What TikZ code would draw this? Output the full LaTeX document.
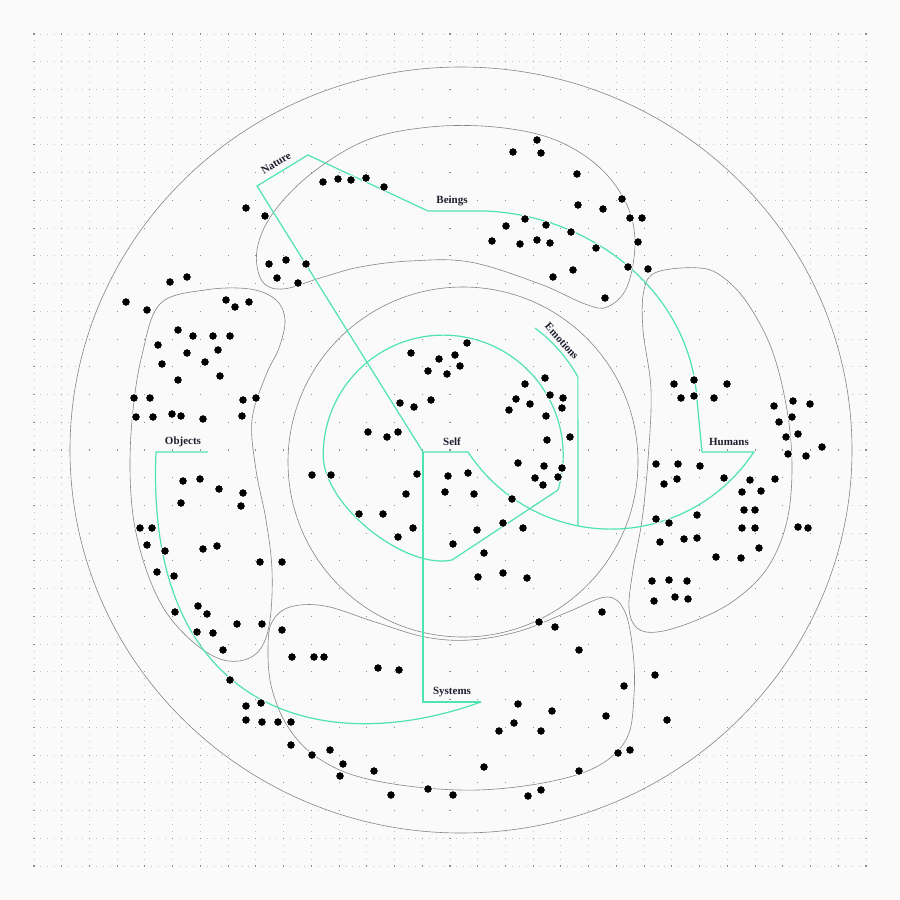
\documentclass[tikz,border=0pt]{standalone}
\usepackage{fontspec}
\setmainfont{Liberation Serif}
\definecolor{bgc}{HTML}{FAFAFA}
\definecolor{minorc}{HTML}{C4C4C4}
\definecolor{majorc}{HTML}{8C8C8C}
\definecolor{linec}{HTML}{858585}
\definecolor{mint}{HTML}{4FE3B0}
\definecolor{inkc}{HTML}{1E1E2E}
\tikzset{
  gridline/.style={minorc, line width=0.9pt, dash pattern=on 0.9pt off 6.0333pt},
  blob/.style={linec, line width=0.6pt},
  route/.style={mint, line width=1.2pt, line join=miter},
  spot/.style={fill=black},
  ring/.style={draw=bgc, line width=0.8pt},
  lbl/.style={text=inkc, font=\bfseries\fontsize{11}{13}\selectfont, inner sep=1pt}
}
\begin{document}
\begin{tikzpicture}[x=1pt,y=-1pt]
\useasboundingbox (0,0) rectangle (900,900);
\fill[bgc] (0,0) rectangle (900,900);
% dotted grid
\foreach \i in {0,...,30}{
  \pgfmathsetmacro\g{34+\i*27.7333}
  \draw[gridline] (33.55,\g) -- (866.5,\g);
  \draw[gridline] (\g,33.55) -- (\g,866.5);
}
% outer region
\fill[bgc] (461,450) ellipse[x radius=391, y radius=383];
\foreach \i in {0,...,30}{
  \foreach \j in {0,...,30}{
    \fill[majorc] ({34+\i*27.7333-0.55},{34+\j*27.7333-0.55}) rectangle ++(1.1,1.1);
  }
}
\draw[blob] (461,450) ellipse[x radius=391, y radius=383];
% inner circle
\draw[blob] (463,462) circle[radius=175];
% Beings blob
\draw[blob] plot[smooth cycle, tension=0.6] coordinates {
 (257,250) (273,213) (312,173) (367,140) (430,127) (495,127) (553,139) (598,166) (626,203) (635,242)
 (627,287) (607,307) (585,304) (540,284) (470,262) (410,261) (360,267) (320,278) (283,289) (262,281)};
% Objects blob
\draw[blob] plot[smooth cycle, tension=0.6] coordinates {
 (160,304) (205,290) (250,289) (276,300) (285,320) (279,348) (266,375) (252,420) (256,470) (266,520)
 (272,570) (270,620) (261,648) (244,660) (220,659) (193,642) (166,612) (147,572) (134,522) (130,468)
 (133,410) (142,355)};
% Humans blob
\draw[blob] plot[smooth cycle, tension=0.6] coordinates {
 (700,268) (657,272) (644,290) (643,330) (651,390) (648,460) (642,520) (633,570) (629,608) (637,628)
 (657,632) (692,622) (732,602) (766,570) (786,525) (792,470) (787,410) (772,350) (748,304) (724,278)};
% Systems blob
\draw[blob] plot[smooth cycle, tension=0.6] coordinates {
 (272,622) (290,607) (325,606) (375,622) (425,637) (470,640) (520,631) (568,612) (607,597) (625,612)
 (633,652) (634,695) (627,738) (598,766) (548,782) (478,790) (408,786) (350,774) (310,752) (285,722)
 (271,685) (268,648)};
% green routes
\draw[route] (423,452) -- (468,452) arc[start angle=146.7, end angle=33.3, radius=171]
  -- (702,452) -- (697,400) .. controls (690,290) and (590,215) .. (485,211)
  -- (428,211) -- (308,155) -- (257,186) -- cycle;
\draw[route] (423,452) -- (423,702) -- (481,702);
\draw[route] (208,452) -- (156,452) .. controls (145,710) and (320,760) .. (481,702);
\draw[route] (535,328) arc[start angle=-53.4, end angle=-29.1, radius=154.4] -- (578,526);
\draw[route] (558,490) arc[start angle=16.9, end angle=-180, radius=120]
  .. controls (323,505) and (405,570) .. (452,560) -- cycle;
% dots
\foreach \x/\y in {
 537/140, 513/152, 541/153, 577/174,
 323/182, 338/179, 351/180, 366/178, 384/187,
 246/208, 265/216,
 269/264, 286/260, 306/264, 277/278, 298/283,
 578/205, 603/209, 622/199, 630/218, 642/218,
 525/219, 546/225, 506/226, 492/241, 520/244, 537/240, 550/243, 571/232, 596/248,
 553/277, 573/270, 605/298, 628/267, 648/269, 638/242,
 126/302, 147/310, 170/282, 187/277,
 226/300, 235/307, 249/302, 178/330, 193/336, 213/336, 230/336, 158/345, 187/353, 218/350,
 162/364, 205/362, 220/376, 178/380, 134/398, 150/398, 256/398, 243/400, 172/414, 181/416,
 136/417, 153/417, 203/419, 242/416,
 183/481, 200/479, 219/489, 243/493, 181/503, 241/506,
 140/528, 152/528, 147/545, 165/551, 203/549, 217/546, 157/572, 174/576, 260/562, 282/562,
 175/612, 198/606, 207/614, 197/632, 213/633, 237/624, 262/624, 223/650, 230/680,
 467/343, 411/353, 439/359, 455/355, 460/366, 428/371, 447/374, 400/403, 414/407, 431/400,
 368/432, 387/437, 398/432, 312/475, 331/475,
 545/378, 525/384, 516/399, 550/395, 563/398, 530/404, 509/410, 562/408, 546/416, 547/440,
 570/437, 518/463, 544/466, 562/468, 535/478, 558/477, 543/485,
 417/474, 448/476, 468/473, 445/492, 474/494, 406/494, 512/499, 503/523, 523/528,
 477/530, 453/544, 359/514, 383/514, 398/537, 413/528, 484/553, 478/577, 503/573, 527/578,
 674/384, 694/380, 727/384, 681/398, 694/396, 714/398,
 774/406, 793/401, 810/404, 792/417, 779/422, 798/434, 786/437, 788/454, 822/447, 806/456,
 656/464, 678/464, 700/466, 664/484, 677/479, 724/478, 750/480, 775/479, 742/492, 761/491,
 744/510, 755/510, 656/519, 697/515, 669/523, 742/528, 755/528, 798/527, 808/528,
 660/542, 684/539, 697/538, 759/548, 716/557, 741/558,
 652/581, 669/580, 687/581, 654/601, 675/597, 688/599,
 282/630, 292/657, 314/657, 324/657, 378/668, 399/670, 539/622, 555/627, 579/650, 602/612,
 624/686, 655/675, 667/720, 606/716, 618/753, 630/750,
 518/704, 514/723, 499/731, 541/731, 552/711, 484/767, 579/771, 541/790, 528/796,
 453/795, 428/789, 391/795, 374/771, 343/764, 340/776, 330/750, 312/755, 291/745,
 246/706, 261/703, 246/720, 262/722, 278/722, 291/722}
 { \fill[spot] (\x,\y) circle[radius=4]; \draw[ring] (\x,\y) circle[radius=4.4]; }
% labels
\node[lbl, rotate=31] (nature) at (276,163) {Nature};
\node[lbl] (beings) at (452,201) {Beings};
\node[lbl, rotate=-48] (emotions) at (562,341) {Emotions};
\node[lbl] (self) at (452,442) {Self};
\node[lbl] (humans) at (729,442) {Humans};
\node[lbl] (objects) at (183,442) {Objects};
\node[lbl] (systems) at (452,692) {Systems};
\end{tikzpicture}
\end{document}
